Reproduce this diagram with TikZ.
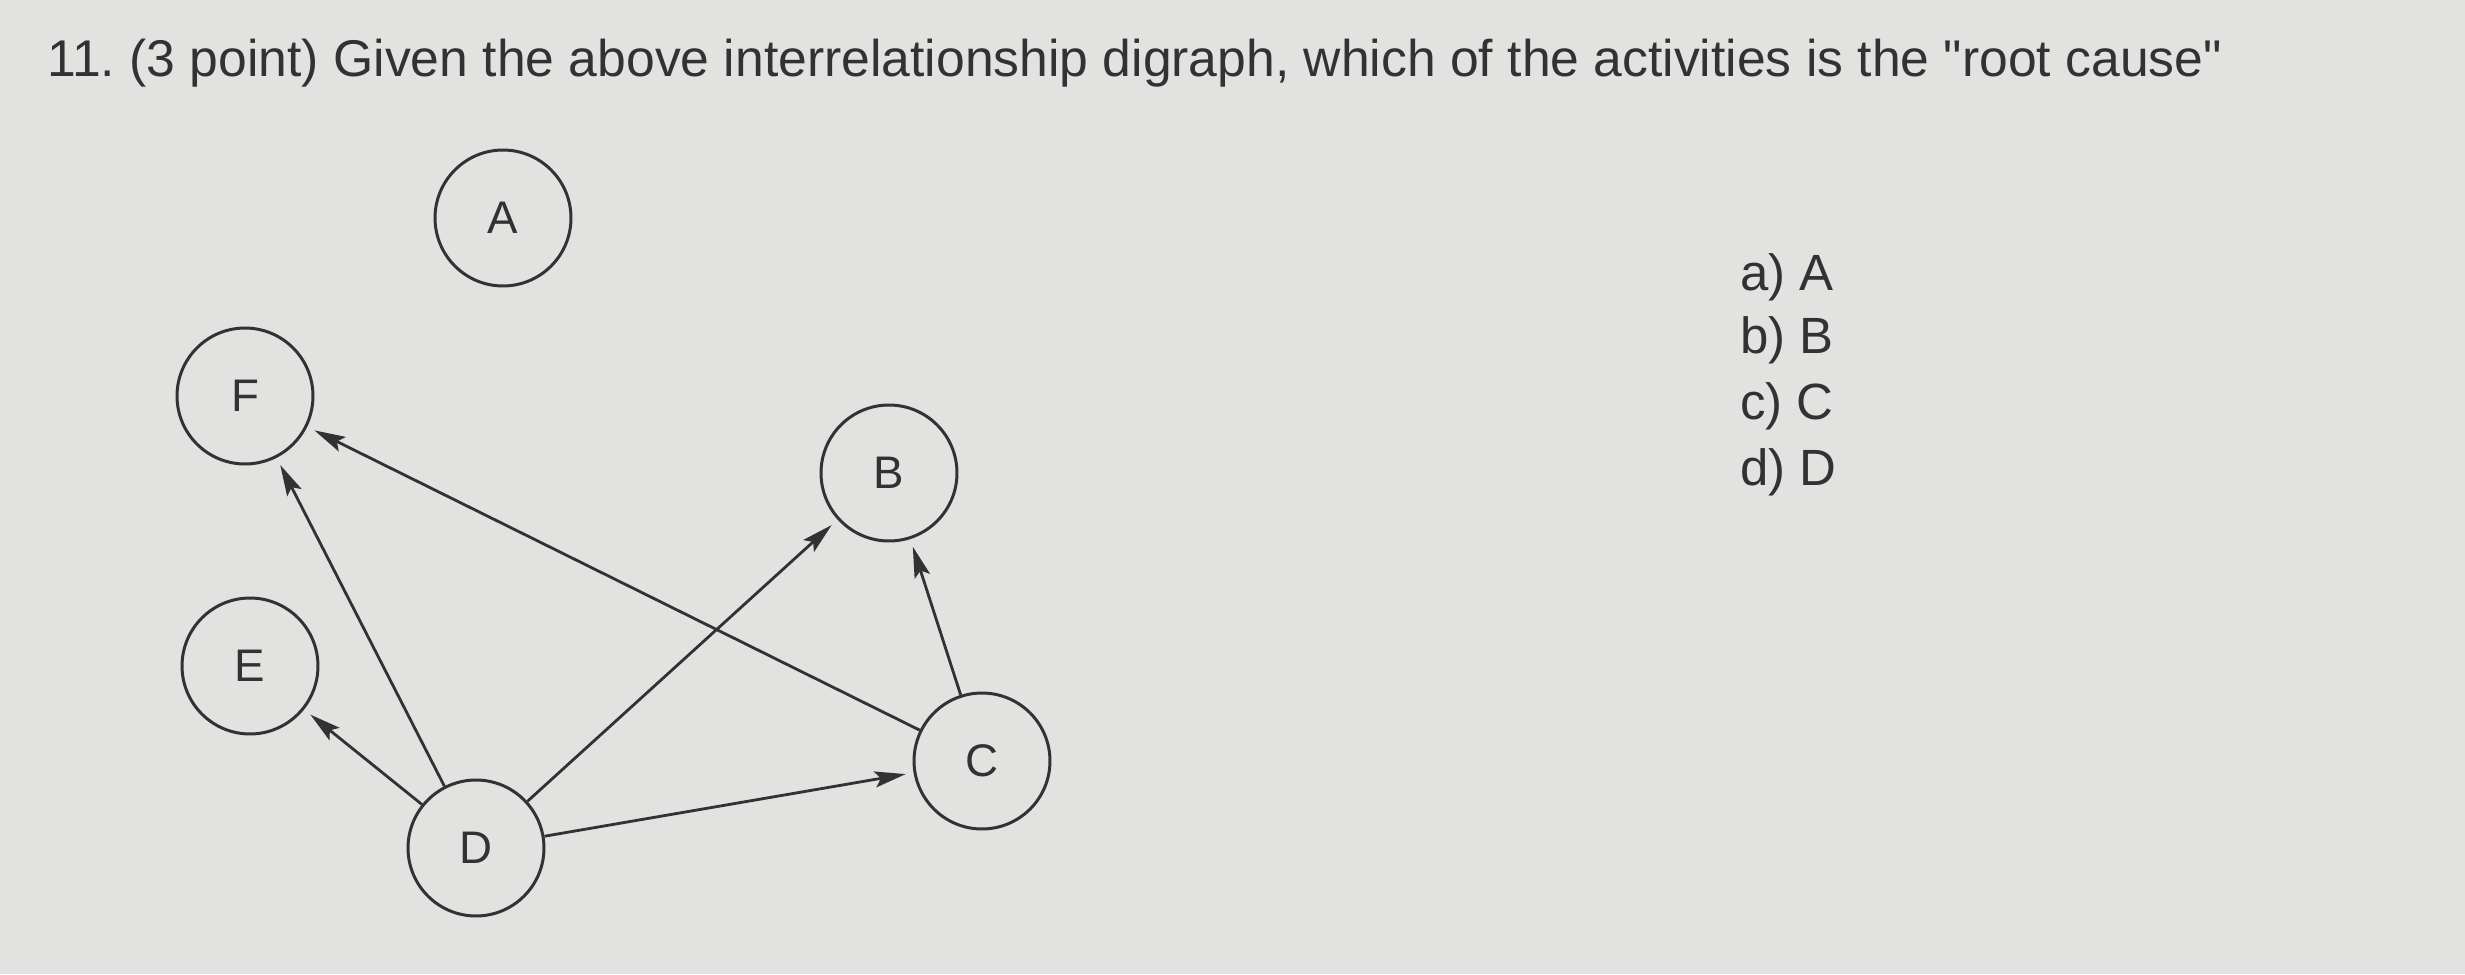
\documentclass[tikz,border=0pt]{standalone}
\usepackage{fontspec}
\setmainfont{Liberation Sans}
\usetikzlibrary{arrows.meta}
\definecolor{ink}{RGB}{50,50,50}
\definecolor{paper}{RGB}{226,226,224}
\begin{document}
\begin{tikzpicture}[x=0.02cm, y=-0.02cm,
	>={Stealth[length=0.62cm,width=0.32cm,inset=0.12cm]},
	vertex/.style={draw=ink, line width=1.7pt, circle, minimum size=2.72cm, inner sep=0pt, text=ink, font=\fontsize{26}{28}\selectfont},
	link/.style={->, draw=ink, line width=1.6pt, shorten >=0.16cm},
	answer/.style={anchor=base west, inner sep=0pt, text=ink, font=\fontsize{29}{32}\selectfont}]
	\fill[paper] (0,0) rectangle (2465,974);
	\useasboundingbox (0,0) rectangle (2465,974);
	\node [at= {(47,76)}, answer, font=\fontsize{29.4}{32}\selectfont] (question) {11.\ (3 point) Given the above interrelationship digraph, which of the activities is the \textquotedbl root cause\textquotedbl};
	\node [at= {(503,218)}, vertex] (A) {A};
	\node [at= {(245,396)}, vertex] (F) {F};
	\node [at= {(889,473)}, vertex] (B) {B};
	\node [at= {(250,666)}, vertex] (E) {E};
	\node [at= {(982,761)}, vertex] (C) {C};
	\node [at= {(476,848)}, vertex] (D) {D};
	\draw[link] (D)--(E);
	\draw[link] (D)--(F);
	\draw[link] (D)--(B);
	\draw[link] (D)--(C);
	\draw[link] (C)--(F);
	\draw[link] (C)--(B);
	\node [at= {(1740,290)}, answer] (optA) {a) A};
	\node [at= {(1740,353)}, answer] (optB) {b) B};
	\node [at= {(1740,419)}, answer] (optC) {c) C};
	\node [at= {(1740,485)}, answer] (optD) {d) D};
\end{tikzpicture}
\end{document}
